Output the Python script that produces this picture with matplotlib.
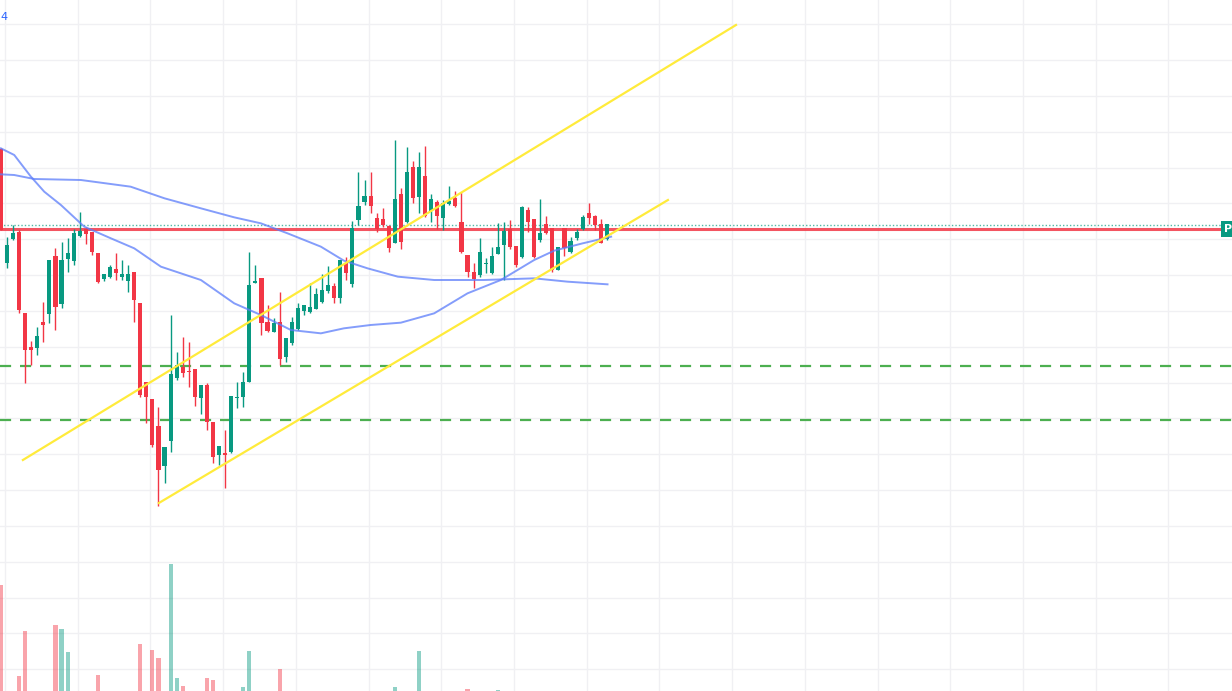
import matplotlib.pyplot as plt
import numpy as np

# candle readings (pixel-based readings from the chart, converted to price below)
opens = [57, 400, 328, 305, 548, 652, 655, 575, 552, 377, 522, 388, 392, 318, 297, 305, 370, 447, 442, 418,
         440, 453, 427, 520, 755, 808, 888, 1008, 933, 745, 710, 722, 718, 805, 765, 875, 975, 968, 966, 805,
         800, 757, 458, 445, 577, 605, 577, 680, 638, 596, 543, 545, 537, 517, 483, 467, 505, 400, 463, 270,
         215, 198, 263, 268, 288, 340, 193, 276, 112, 200, 138, 243, 215, 265, 223, 203, 277, 375, 425, 435,
         402, 430, 372, 345, 298, 348, 380, 240, 268, 330, 283, 295, 420, 295, 365, 325, 298, 250, 257, 283, 326]
closes = [300, 345, 310, 540, 660, 660, 618, 585, 390, 530, 390, 370, 310, 302, 313, 367, 455, 433, 410, 428,
          433, 433, 510, 795, 800, 945, 1020, 950, 733, 705, 728, 725, 800, 765, 875, 982, 948, 975, 798, 800,
          755, 465, 453, 578, 603, 578, 688, 625, 575, 535, 526, 530, 493, 480, 465, 505, 390, 430, 293, 228,
          198, 228, 297, 285, 355, 208, 335, 127, 203, 112, 258, 208, 258, 218, 213, 228, 367, 427, 447, 365,
          398, 377, 352, 303, 352, 405, 232, 275, 382, 310, 310, 420, 352, 355, 332, 305, 262, 263, 285, 338, 283]
highs = [55, 320, 285, 300, 548, 632, 590, 515, 390, 355, 337, 325, 298, 245, 290, 305, 370, 433, 405, 370,
         390, 405, 425, 518, 755, 808, 830, 950, 555, 665, 622, 637, 718, 765, 760, 875, 948, 900, 798, 755,
         725, 365, 405, 445, 525, 565, 487, 625, 562, 518, 526, 460, 475, 433, 407, 460, 390, 380, 272, 127,
         150, 127, 250, 235, 285, 30, 175, 52, 92, 65, 48, 193, 210, 210, 168, 182, 187, 375, 400, 325,
         385, 350, 280, 275, 270, 348, 228, 232, 268, 208, 258, 295, 352, 295, 322, 298, 255, 220, 255, 268, 283]
lows = [300, 415, 330, 548, 760, 705, 675, 637, 578, 600, 535, 425, 405, 320, 343, 375, 460, 452, 445, 450,
        450, 487, 575, 800, 878, 950, 1128, 1060, 965, 750, 740, 772, 828, 852, 900, 998, 1005, 1075, 968, 835,
        830, 757, 460, 615, 605, 605, 705, 695, 645, 600, 555, 550, 537, 520, 490, 520, 520, 450, 470, 285,
        225, 250, 305, 290, 365, 340, 357, 280, 218, 250, 260, 275, 297, 300, 225, 230, 370, 440, 473, 440,
        430, 432, 372, 450, 358, 412, 385, 305, 385, 335, 312, 425, 420, 377, 368, 330, 300, 283, 300, 340, 330]

vol_idx = [0, 3, 4, 9, 10, 11, 16, 23, 25, 26, 28, 29, 30, 34, 35, 40, 41, 46, 65, 69, 77, 82]
vol_val = [106, 15, 60, 66, 62, 39, 16, 47, 41, 33, 127, 13, 5, 13, 11, 4, 40, 22, 4, 40, 2, 1]

# moving averages, read at a few candle positions
ma_slow_x = [0, 2.2, 5.5, 13.2, 21.4, 27, 33, 38.5, 42.9, 47.3, 52.8, 56.6, 60.5, 65.5, 71.5, 79.7, 88, 93.5, 100.1]
ma_slow_y = [133, 135, 147, 150, 170, 205, 235, 262, 280, 310, 350, 392, 415, 440, 450, 450, 445, 455, 463]
ma_fast_x = [0, 2.2, 4.95, 7.15, 9.9, 13.75, 18.15, 22, 26.4, 33, 38.5, 42.9, 47.85, 52.8, 56.6, 61, 66, 71.5,
             77, 82.5, 88, 91.3, 96, 100.7]
ma_fast_y = [55, 75, 140, 185, 225, 290, 325, 355, 410, 450, 520, 555, 600, 610, 595, 585, 578, 550,
             490, 450, 390, 362, 340, 320]

# trend lines and levels (same reading units)
upper_line = [(3.63, 990), (121.3, -315)]
lower_line = [(26.07, 1119), (110.07, 210)]
last_price = 297
prev_close = 285
support_levels = [708, 870]


def to_price(v):
    return 100 - (np.asarray(v, dtype=float) - 5) / 10.75


UP, DOWN = '#089981', '#f23645'

fig = plt.figure(figsize=(12.32, 6.91), dpi=100)
ax = fig.add_axes([0, 0, 1, 1])
n = len(opens)
x = np.arange(n)
o, c, h, l = to_price(opens), to_price(closes), to_price(highs), to_price(lows)

# grid
for gx in np.arange(0.66, 210, 12):
    ax.axvline(gx, color='#f0f0f3', lw=1, zorder=0)
for gy in np.arange(-60, 160, 10):
    ax.axhline(gy, color='#f0f0f3', lw=1, zorder=0)

for i in range(n):
    col = UP if c[i] >= o[i] else DOWN
    ax.vlines(x[i], l[i], h[i], color=col, lw=1, zorder=3)
    bot, top = min(o[i], c[i]), max(o[i], c[i])
    ax.bar(x[i], max(top - bot, 0.1), bottom=bot, width=0.68, color=col, zorder=4)

ax.plot(ma_slow_x, to_price(ma_slow_y), color='#5b7cfa', alpha=0.75, lw=1.4, zorder=5)
ax.plot(ma_fast_x, to_price(ma_fast_y), color='#5b7cfa', alpha=0.75, lw=1.4, zorder=5)

for line in (upper_line, lower_line):
    xs, ys = zip(*line)
    ax.plot(xs, to_price(ys), color='#ffeb3b', lw=1.6, zorder=6)

ax.axhline(to_price(last_price), color=DOWN, lw=2.2, alpha=0.85, zorder=2)
ax.axhline(to_price(prev_close), color='#089981', lw=1, ls=(0, (1, 1.5)), alpha=0.7, zorder=2)
for lv in support_levels:
    ax.axhline(to_price(lv), color='#4caf50', lw=1.6, ls=(0, (5, 4)), zorder=2)

ax.set_xlim(-0.15, 1232 / 6.06 - 0.15)
ax.set_ylim(to_price(130 * 3 - 130 * 3 + (691 - 130) * 3), to_price(-130 * 3))
ax.axis('off')

# volume
axv = ax.twinx()
vcols = [UP if closes[i] <= opens[i] else DOWN for i in vol_idx]
axv.bar(vol_idx, vol_val, width=0.68, color=vcols, alpha=0.45, zorder=1)
axv.set_ylim(0, 691)
axv.axis('off')

ax.text(1.0, to_price(last_price), 'P', transform=ax.get_yaxis_transform(), ha='right', va='center',
        color='white', fontsize=8, fontweight='bold',
        bbox=dict(boxstyle='square,pad=0.3', fc='#089981', ec='none'), zorder=10)
fig.text(0.0, 0.975, '4', color='#2962ff', fontsize=8, ha='left', va='center')

fig.savefig('out.png', dpi=100)
